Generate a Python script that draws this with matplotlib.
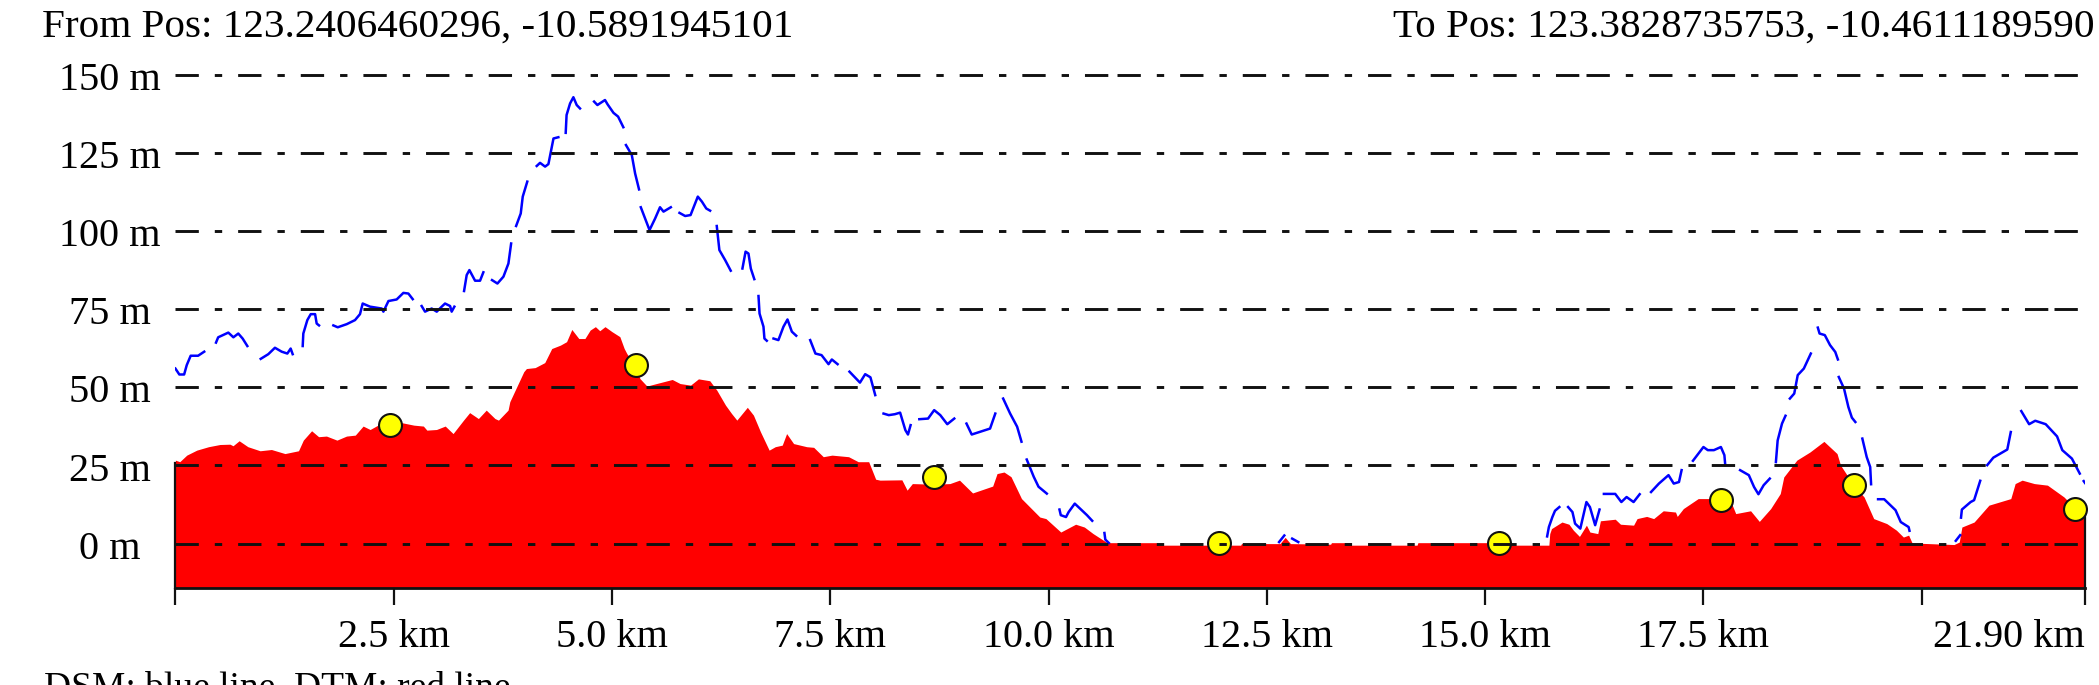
import numpy as np
import matplotlib
matplotlib.use("Agg")
import matplotlib.pyplot as plt
from matplotlib.transforms import ScaledTranslation

plt.rcParams['font.family'] = ['Liberation Serif', 'DejaVu Serif']
plt.rcParams['lines.scale_dashes'] = False

nan = np.nan

# DTM profile (km, m)
dtm_km = [0, .05, .13, .245, .38, .51, .625, .66, .73, .83, .97, 1.1, 1.255, 1.41, 1.465, 1.56, 1.64, 1.73, 1.85, 1.96,
          2.06, 2.15, 2.23, 2.32, 2.46, 2.59, 2.73, 2.84, 2.88, 2.99, 3.09, 3.18, 3.3, 3.37, 3.47, 3.56, 3.66, 3.7, 3.81, 3.83,
          3.91, 3.99, 4.02, 4.12, 4.23, 4.31, 4.41, 4.48, 4.54, 4.62, 4.69, 4.75, 4.81, 4.86, 4.92, 5.0, 5.09, 5.14, 5.17, 5.27,
          5.32, 5.4, 5.51, 5.69, 5.78, 5.9, 5.99, 6.12, 6.2, 6.3, 6.37, 6.43, 6.55, 6.62, 6.7, 6.8, 6.87, 6.95, 7.0, 7.08,
          7.23, 7.31, 7.42, 7.52, 7.71, 7.82, 7.94, 8.02, 8.07, 8.32, 8.38, 8.44, 8.69, 8.87, 8.98, 9.13, 9.36, 9.41, 9.49, 9.57,
          9.69, 9.9, 9.97, 10.14, 10.31, 10.41, 10.51, 10.66, 10.71, 11.24, 11.25, 12.2, 12.21, 12.65, 12.71, 12.77, 13.23, 13.24, 13.46, 13.47,
          14.22, 14.23, 15.02, 15.03, 15.73, 15.74, 15.76, 15.88, 15.96, 16.01, 16.08, 16.16, 16.2, 16.29, 16.32, 16.49, 16.55, 16.7, 16.74, 16.85,
          16.93, 17.04, 17.18, 17.2, 17.27, 17.44, 17.69, 17.83, 17.87, 18.04, 18.14, 18.27, 18.38, 18.42, 18.57, 18.72, 18.88, 19.03, 19.07, 19.22,
          19.34, 19.45, 19.6, 19.71, 19.79, 19.85, 19.89, 20.37, 20.43, 20.46, 20.6, 20.77, 21.02, 21.07, 21.15, 21.29, 21.44, 21.63, 21.76, 21.87]
dtm_m = [26.7, 26.2, 28.3, 29.9, 31, 31.7, 31.8, 31.3, 32.9, 31, 29.7, 30.1, 28.8, 29.7, 33.1, 36.1, 34.2, 34.4, 33.1, 34.4,
         34.7, 37.6, 36.5, 37.9, 38.4, 38.7, 37.9, 37.6, 36.3, 36.5, 37.6, 35.2, 39.5, 41.9, 40, 42.7, 40, 39.5, 42.7, 45.4,
         50.2, 55, 56, 56.3, 57.9, 62.4, 63.5, 64.6, 68.5, 65.6, 65.6, 68.3, 69.4, 68.1, 69.4, 67.8, 66.2, 62.4, 60.8, 56.6,
         52.8, 50.4, 51.2, 52.5, 51.2, 50.7, 52.7, 52.1, 49.1, 44.3, 41.6, 39.5, 43.6, 41.1, 35.8, 29.9, 31, 31.5, 35.2, 32,
         31, 30.8, 27.8, 28.3, 27.8, 26.2, 26.2, 20.6, 20.3, 20.4, 17.1, 19.2, 19, 19.2, 20.3, 16.2, 18.4, 22.4, 22.9, 21.4,
         14.4, 8.5, 8, 3.7, 6.2, 5.3, 3.2, .5, .3, .3, -.5, -.5, 0, 0, 2, 0, -.2, .3, .3, -.5,
         -.5, .3, .3, -.5, -.5, 3.2, 4.8, 6.9, 6.2, 4.3, 2.3, 5.9, 3.7, 3.2, 7.3, 7.8, 6.2, 5.9, 8, 8.7,
         8, 10.5, 10.1, 8.7, 11.2, 14.4, 14.4, 12.3, 9.6, 10.5, 7.1, 11.2, 16, 21.3, 26.7, 29.3, 32.7, 28.8, 25.1, 18.7,
         14.9, 8, 6.4, 4.3, 2.1, 2.7, .2, -.3, .5, 5.3, 6.9, 12.3, 14.4, 19.2, 20.3, 19.2, 18.7, 14.9, 11.2, 9.6]

# DSM profile, nan marks the gaps in the blue line
dsm_km = [0, .045, .10, .13, .175, .26, .33, nan,
          .465, .49, .606, .664, .72, .77, .824, nan,
          .977, 1.064, 1.14, 1.217, 1.282, 1.32, 1.343, nan,
          1.458, 1.465, 1.511, 1.55, 1.6, 1.618, 1.645, nan,
          1.809, 1.859, 1.962, 2.057, 2.114, 2.145, 2.229, 2.363, 2.382, 2.44, 2.534, 2.611, 2.668, 2.718, nan,
          2.82, 2.859, 2.935, 2.993, 3.05, 3.088, 3.146, 3.164, 3.195, nan,
          3.306, 3.336, 3.367, 3.432, 3.489, 3.527, nan,
          3.626, 3.688, 3.757, 3.814, 3.845, nan,
          3.902, 3.955, 3.978, 4.03, nan,
          4.138, 4.176, 4.234, 4.272, 4.33, 4.386, nan,
          4.47, 4.48, 4.52, 4.558, 4.596, 4.634, nan,
          4.795, 4.833, 4.92, 4.95, 5.017, 5.07, 5.13, nan,
          5.16, 5.227, 5.265, 5.31, nan,
          5.33, 5.43, 5.494, 5.55, 5.59, 5.674, nan,
          5.773, 5.838, 5.9, 5.983, 6.03, 6.08, 6.124, nan,
          6.2, 6.23, 6.296, 6.36, nan,
          6.494, 6.53, 6.563, 6.59, 6.63, nan,
          6.678, 6.69, 6.735, 6.746, 6.773, nan,
          6.85, 6.906, 6.964, 7.01, 7.06, 7.11, nan,
          7.27, 7.33, 7.4, 7.48, 7.518, 7.584, nan,
          7.72, 7.84, 7.9, 7.96, 8.015, nan,
          8.11, 8.17, 8.24, 8.3, 8.36, 8.39, 8.42, nan,
          8.52, 8.62, 8.69, 8.76, 8.84, 8.92, nan,
          9.06, 9.12, 9.22, 9.33, 9.39, nan,
          9.48, 9.56, 9.64, 9.69, nan,
          9.75, 9.83, 9.885, 9.98, nan,
          10.125, 10.14, 10.2, 10.23, 10.3, 10.38, 10.44, 10.5, nan,
          10.64, 10.65, 10.69, nan,
          12.64, 12.7, nan,
          12.79, 12.86, nan,
          15.71, 15.73, 15.77, 15.8, 15.85, nan,
          15.95, 16.0, 16.03, 16.09, 16.13, 16.16, 16.2, 16.26, 16.31, nan,
          16.36, 16.49, 16.56, 16.62, 16.7, 16.77, nan,
          16.9, 16.99, 17.1, 17.16, 17.22, 17.25, nan,
          17.38, 17.5, 17.55, 17.62, 17.7, 17.74, 17.75, nan,
          17.92, 18.02, 18.08, 18.13, 18.19, 18.26, nan,
          18.33, 18.35, 18.38, 18.4, 18.44, nan,
          18.49, 18.54, 18.58, 18.65, 18.73, nan,
          18.81, 18.83, 18.89, 18.95, 19.01, 19.04, nan,
          19.05, 19.11, 19.16, 19.2, 19.24, nan,
          19.32, 19.37, 19.41, 19.42, nan,
          19.5, 19.57, 19.7, 19.76, 19.85, 19.86, nan,
          20.39, 20.44, nan,
          20.45, 20.46, 20.56, 20.6, 20.67, nan,
          20.75, 20.82, 20.98, 21.02, nan,
          21.14, 21.23, 21.3, 21.42, 21.55, 21.61, 21.72, 21.81, nan,
          21.855, 21.87]
dsm_m = [56, 54.1, 54.1, 57.1, 60.1, 60.1, 61.4, nan,
         64.3, 66, 67.5, 66, 67.2, 65.6, 63.2, nan,
         59.1, 60.6, 62.65, 61.4, 60.8, 62.4, 60.6, nan,
         63.2, 67.2, 71.5, 73.4, 73.4, 70.4, 69.8, nan,
         69.8, 69.2, 70.2, 71.5, 73.4, 76.8, 75.8, 75.2, 74.2, 77.6, 78.1, 80.2, 80, 78.2, nan,
         76, 74.2, 75.2, 74.2, 75.8, 76.8, 76, 74.2, 75.8, nan,
         80.8, 85.9, 87.5, 84.1, 84.1, 86.8, nan,
         84.3, 83.2, 85.4, 89.6, 96, nan,
         101.6, 105.6, 111, 115.8, nan,
         120.8, 121.8, 120.6, 121.4, 129.6, 130, nan,
         131.4, 137.1, 140.8, 142.8, 140.3, 139.2, nan,
         141.4, 140.3, 141.9, 140.5, 137.8, 136.6, 133.2, nan,
         127.5, 124.3, 118.4, 113.3, nan,
         107.6, 100.3, 104, 107.6, 106.2, 107.6, nan,
         105.8, 104.8, 105.1, 111, 109.4, 107.2, 106.5, nan,
         101.6, 93.9, 90.7, 87.3, nan,
         88, 93.4, 92.8, 88, 84.6, nan,
         79.2, 73.6, 69.4, 65.6, 64.9, nan,
         65.6, 65.1, 69.4, 71.7, 67.8, 66.5, nan,
         65.1, 60.8, 60.3, 57.4, 58.9, 57.4, nan,
         55, 51.5, 54.2, 53.2, 47.5, nan,
         41.6, 41.1, 41.4, 41.9, 36.3, 34.9, 37.9, nan,
         39.8, 40, 42.7, 41.1, 38.2, 40, nan,
         38.4, 34.9, 35.8, 36.8, 41.6, nan,
         46.4, 41.6, 37.4, 32.6, nan,
         26.9, 21.4, 18.2, 16, nan,
         10.9, 9.1, 8.5, 10.1, 12.8, 10.7, 9.1, 7.3, nan,
         3.4, 1.3, .2, nan,
         .5, 2.6, nan,
         1.6, .5, nan,
         2.3, 5.3, 8.5, 10.5, 11.7, nan,
         11.7, 10.1, 6.4, 4.8, 9.6, 13.3, 11.7, 5.9, 10.9, nan,
         15.9, 15.9, 13.3, 14.9, 13.3, 15.8, nan,
         16.5, 19.2, 21.9, 19.2, 19.7, 23.5, nan,
         26.5, 30.9, 29.9, 29.9, 30.9, 28.3, 25.1, nan,
         23.5, 21.9, 18.1, 15.8, 18.7, 20.8, nan,
         26.1, 33, 36.3, 38.4, 40.9, nan,
         46.4, 48, 53.9, 56, 60.8, nan,
         69.1, 67.2, 66.7, 63.5, 61.3, 58.9, nan,
         53.3, 49.6, 43.7, 40.3, 38.9, nan,
         33.6, 27.7, 24.5, 19, nan,
         14.2, 14.2, 10.7, 6.9, 5.3, 4.1, nan,
         .9, 2.7, nan,
         8.3, 10.9, 13.3, 13.9, 20.1, nan,
         25.1, 27.5, 30.1, 35.7, nan,
         42.4, 38.2, 39.3, 38.2, 34.3, 29.9, 27.2, 22.4, nan,
         20, 19.4]

# yellow sample points
point_km = [2.46, 5.27, 8.69, 11.95, 15.16, 17.7, 19.22, 21.76]
point_m = [38.1, 57.1, 21.4, 0.3, 0.2, 13.9, 18.7, 11.2]

y_ticks = [0, 25, 50, 75, 100, 125, 150]
y_labels = ['0 m', '25 m', '50 m', '75 m', '100 m', '125 m', '150 m']
x_ticks = [0, 2.5, 5, 7.5, 10, 12.5, 15, 17.5, 20, 21.87]
x_labels = ['', '2.5 km', '5.0 km', '7.5 km', '10.0 km', '12.5 km', '15.0 km', '17.5 km', '', '21.90 km']
# the dash pattern of the grid starts over at these distances
dash_restarts = [0, 5.39, 10.78, 16.15, 21.52, 21.87]

W, H = 2099, 685
FS = 29
fig = plt.figure(figsize=(W / 100, H / 100), dpi=100)
ax = fig.add_axes([175.4 / W, 1 - 588 / H, (2085 - 175.4) / W, (588 - 74.7) / H])
ax.patch.set_alpha(0)
ax.set_xlim(0, 21.87)
ax.set_ylim(-14.2, 150)

ax.fill_between(dtm_km, -14.2, dtm_m, color='#ff0000', lw=0, zorder=1)
ax.plot([0, 0], [-14.2, dtm_m[0] - 1], color='#111111', lw=1.6, zorder=2, clip_on=False)
ax.plot([21.87, 21.87], [-14.2, dtm_m[-1]], color='#111111', lw=1.6, zorder=2, clip_on=False)
ax.plot(point_km, point_m, 'o', ms=16.5, mfc='#ffff00', mec='#111111', mew=1.5, zorder=3, clip_on=False)
ax.plot(dsm_km, dsm_m, color='#0000ff', lw=1.8, zorder=4)

# grid lines, redrawn per stretch so the pattern restarts like the reference
for y in y_ticks:
    for start, end in zip(dash_restarts[:-1], dash_restarts[1:]):
        ax.plot([start, end], [y, y], color='#111111', lw=2.1, zorder=5, clip_on=False,
                ls=(0, (16.8, 11.5, 5.3, 11.5)))

for side in ['top', 'left', 'right']:
    ax.spines[side].set_visible(False)
ax.spines['bottom'].set_linewidth(2)
ax.spines['bottom'].set_color('#111111')

ax.set_yticks(y_ticks)
ax.set_yticklabels(y_labels, fontsize=FS, ha='center', va='center')
ax.tick_params(axis='y', left=False, pad=43.5)
# labels sit a bit lower than va='center' puts them
shift_down = ScaledTranslation(0, -4 / 72, fig.dpi_scale_trans)
for lab in ax.get_yticklabels():
    lab.set_transform(lab.get_transform() + shift_down)
ax.set_xticks(x_ticks)
ax.set_xticklabels(x_labels, fontsize=FS)
ax.tick_params(axis='x', length=12.2, width=1.6, color='#111111', pad=10)
ax.get_xticklabels()[-1].set_ha('right')

fig.text(42 / W, 1 - 37 / H, 'From Pos: 123.2406460296, -10.5891945101', fontsize=29.6, va='baseline')
fig.text(2095 / W, 1 - 37 / H, 'To Pos: 123.3828735753, -10.4611189590', fontsize=29.6, va='baseline', ha='right')
fig.text(44 / W, 1 - 697 / H, 'DSM: blue line, DTM: red line', fontsize=27, va='baseline')

fig.savefig('out.png', dpi=100)
